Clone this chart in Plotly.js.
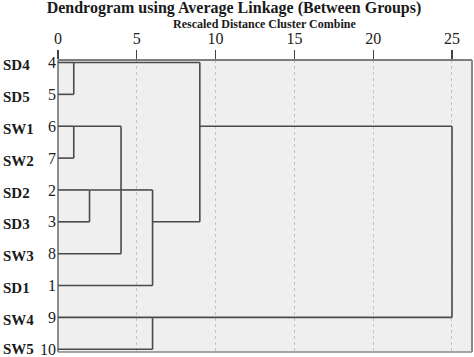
<!DOCTYPE html>
<html><head><meta charset="utf-8">
<script src="https://cdn.plot.ly/plotly-3.0.1.min.js"></script>
<style>html,body{margin:0;padding:0;background:#fff;}#chart{width:474px;height:357px;}</style>
</head><body><div id="chart"></div>
<script>
// Leaves in dendrogram order (top to bottom)
const leafLabels = ['SD4','SD5','SW1','SW2','SD2','SD3','SW3','SD1','SW4','SW5'];
const caseNumbers = ['4','5','6','7','2','3','8','1','9','10'];
// Merges: children (leaf index 0-9, or 'm'+merge index), rescaled distance, row of output line
const mergeChildren = [[0,1],[2,3],[4,5],['m1','m2',6],['m3',7],['m0','m4'],[8,9],['m5','m6']];
const mergeHeights  = [1, 1, 2, 4, 6, 9, 6, 25];
const mergeRows     = [0, 2, 4, 4, 5, 2, 8, null];
const xTicks = [0,5,10,15,20,25];

const SERIF = "'Liberation Serif', 'Times New Roman', serif";
const lineColor = '#4a4a4a';
const xs = [], ys = [];
function nodeInfo(c){
  if (typeof c === 'number') return {x:0, row:c};
  const k = parseInt(c.slice(1));
  return {x: mergeHeights[k], row: mergeRows[k]};
}
mergeChildren.forEach((ch, k) => {
  const h = mergeHeights[k];
  const rows = [];
  ch.forEach(c => {
    const n = nodeInfo(c);
    xs.push(n.x, h, null); ys.push(n.row, n.row, null);
    rows.push(n.row);
  });
  xs.push(h, h, null); ys.push(Math.min(...rows), Math.max(...rows), null);
});

const traces = [{
  x: xs, y: ys, type: 'scatter', mode: 'lines', hoverinfo: 'skip',
  line: {color: lineColor, width: 1.6}, connectgaps: false
}];

const annotations = leafLabels.map((t, i) => ({
  text: '<b>' + t + '</b>', xref: 'paper', yref: 'y', x: -57/414, y: i === leafLabels.length - 1 ? i - 0.02 : i + 0.08,
  xanchor: 'left', yanchor: 'middle', showarrow: false,
  font: {family: SERIF, size: 15, color: '#1a1a1a'}
}));
annotations.push({
  text: '<b>Rescaled Distance Cluster Combine</b>', xref: 'paper', yref: 'paper',
  x: (264-58)/414, y: 1 + (60-24)/292, xanchor: 'center', yanchor: 'middle', showarrow: false,
  font: {family: SERIF, size: 12, color: '#1a1a1a'}
});

const layout = {
  width: 474, height: 357,
  margin: {l: 58, r: 2, t: 60, b: 5},
  paper_bgcolor: '#ffffff', plot_bgcolor: '#efefef',
  showlegend: false,
  title: {text: '<b>Dendrogram using Average Linkage (Between Groups)</b>',
    xref: 'paper', x: (234-58)/414, xanchor: 'center', yref: 'container', y: 1 - 7.5/357, yanchor: 'middle',
    font: {family: SERIF, size: 16, color: '#1a1a1a'}},
  xaxis: {side: 'top', range: [0, 26.27], tickvals: xTicks, ticktext: xTicks.map(String),
    ticks: 'outside', ticklen: 9, tickwidth: 1.2, tickcolor: '#444',
    showgrid: true, gridcolor: '#c4c4c4', griddash: 'dot', gridwidth: 1,
    zeroline: false, showline: false,
    tickfont: {family: SERIF, size: 16, color: '#222'}},
  yaxis: {range: [9.085, -0.078], tickvals: caseNumbers.map((_, i) => i), ticktext: caseNumbers,
    ticks: '', showgrid: false, zeroline: false, showline: false, ticklabelstandoff: 1,
    ticklabeloverflow: 'allow',
    tickfont: {family: SERIF, size: 16, color: '#222'}},
  shapes: [
    {type: 'line', xref: 'paper', yref: 'paper', x0: 0, x1: 0, y0: 0, y1: 1, line: {color: '#555', width: 1.3}},
    {type: 'line', xref: 'paper', yref: 'paper', x0: 0, x1: 1, y0: 1, y1: 1, line: {color: '#555', width: 1.3}},
    {type: 'line', xref: 'paper', yref: 'paper', x0: 0, x1: 1, y0: 0, y1: 0, line: {color: '#888', width: 1.5}},
    {type: 'line', xref: 'paper', yref: 'paper', x0: 1, x1: 1, y0: 0, y1: 1, line: {color: '#888', width: 2}}
  ],
  annotations: annotations
};
Plotly.newPlot('chart', traces, layout, {staticPlot: true, displayModeBar: false});
</script></body></html>
